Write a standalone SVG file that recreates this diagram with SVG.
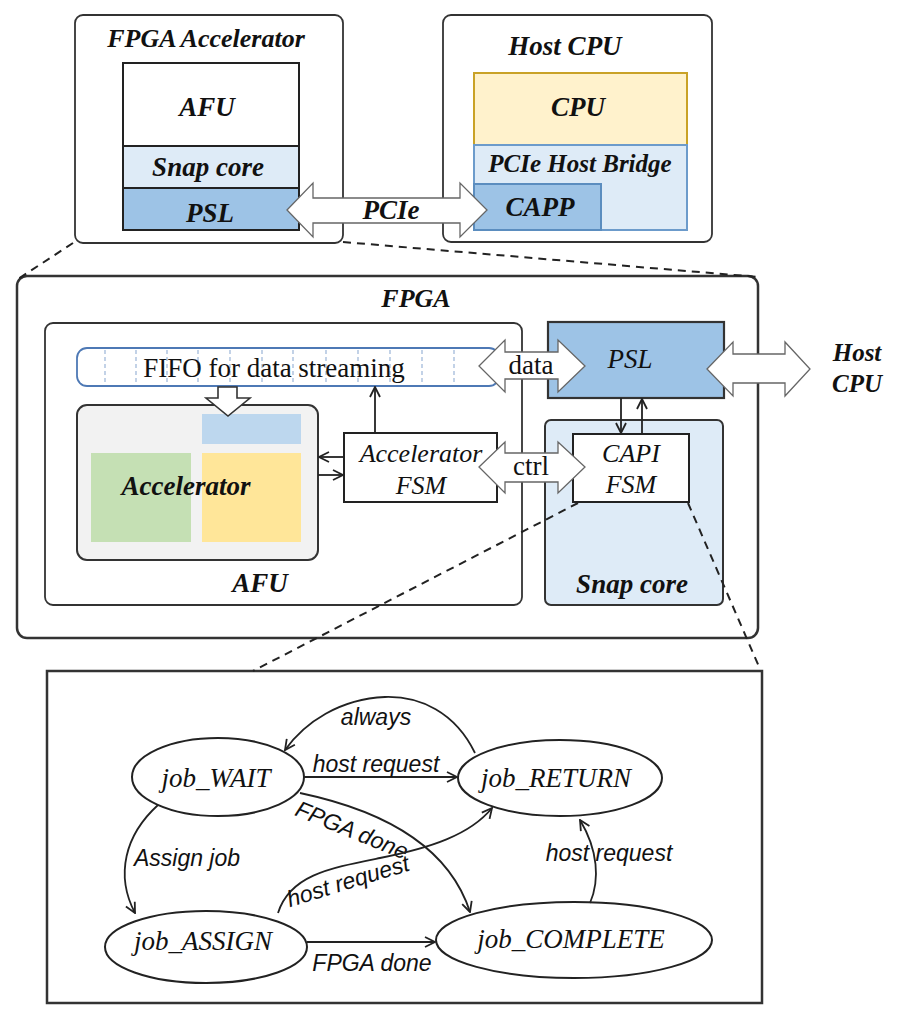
<svg xmlns="http://www.w3.org/2000/svg" width="911" height="1014" viewBox="0 0 911 1014">
<style>
.bi{font-family:"Liberation Serif","Times New Roman",serif;font-weight:bold;font-style:italic;fill:#111;text-anchor:middle}
.it{font-family:"Liberation Serif","Times New Roman",serif;font-style:italic;fill:#111;text-anchor:middle}
.rm{font-family:"Liberation Serif","Times New Roman",serif;fill:#111;text-anchor:middle}
.sl{font-family:"Liberation Sans",Arial,sans-serif;font-style:italic;fill:#111;text-anchor:middle;font-size:23px}
.box{fill:#fff;stroke:#333;stroke-width:1.8}
.barrow{fill:#fff;stroke:#666;stroke-width:1.3}
.dash{fill:none;stroke:#222;stroke-width:2;stroke-dasharray:8,6}
.ln{fill:none;stroke:#222;stroke-width:1.8}
.st{fill:#fff;stroke:#222;stroke-width:2}
</style>
<defs>
<marker id="ah" viewBox="0 0 12 12" refX="11" refY="6" markerWidth="12" markerHeight="12" markerUnits="userSpaceOnUse" orient="auto">
<path d="M1,1 L11,6 L1,11" fill="none" stroke="#222" stroke-width="1.8"/>
</marker>
</defs>

<!-- Top: FPGA Accelerator -->
<g id="fpga-accelerator">
<rect x="75" y="15" width="268" height="228" rx="8" class="box"/>
<text x="206" y="47" class="bi" font-size="26">FPGA Accelerator</text>
<rect x="123" y="63" width="176" height="83" fill="#fff" stroke="#222" stroke-width="2"/>
<text x="207" y="116" class="bi" font-size="27">AFU</text>
<rect x="123" y="146" width="176" height="42" fill="#DEEBF7" stroke="#222" stroke-width="2"/>
<text x="208" y="176" class="bi" font-size="27">Snap core</text>
<rect x="123" y="188" width="176" height="42" fill="#9DC3E6" stroke="#222" stroke-width="2"/>
<text x="210" y="222" class="bi" font-size="27">PSL</text>
</g>

<!-- Top: Host CPU -->
<g id="host-cpu-top">
<rect x="443" y="15" width="269" height="227" rx="8" class="box"/>
<text x="565" y="55" class="bi" font-size="27">Host CPU</text>
<rect x="474" y="73" width="213" height="72" fill="#FFF2CC" stroke="#C9A227" stroke-width="2"/>
<text x="578" y="116" class="bi" font-size="27">CPU</text>
<rect x="474" y="145" width="213" height="85" fill="#DEEBF7" stroke="#6C9BCB" stroke-width="2"/>
<text x="580" y="172" class="bi" font-size="25">PCIe Host Bridge</text>
<rect x="474" y="184" width="127" height="46" fill="#9DC3E6" stroke="#5B8DBF" stroke-width="2"/>
<text x="540" y="216" class="bi" font-size="27">CAPP</text>
</g>

<!-- Middle: FPGA -->
<g id="fpga">
<rect x="17" y="276" width="741" height="362" rx="10" class="box" style="stroke-width:2.5"/>
<text x="416" y="307" class="bi" font-size="26">FPGA</text>
</g>
<g id="afu">
<rect x="45" y="323" width="477" height="282" rx="8" class="box"/>
<text x="260" y="592" class="bi" font-size="27">AFU</text>
</g>
<g id="fifo">
<rect x="77" y="348" width="422" height="38" rx="10" fill="#fff" stroke="#4E79B5" stroke-width="1.8"/>
<g stroke="#9BB5D8" stroke-width="1.2" stroke-dasharray="4,3">
<line x1="105" y1="350" x2="105" y2="384"/><line x1="136" y1="350" x2="136" y2="384"/>
<line x1="167" y1="350" x2="167" y2="384"/><line x1="198" y1="350" x2="198" y2="384"/>
<line x1="230" y1="350" x2="230" y2="384"/><line x1="262" y1="350" x2="262" y2="384"/>
<line x1="293" y1="350" x2="293" y2="384"/><line x1="326" y1="350" x2="326" y2="384"/>
<line x1="358" y1="350" x2="358" y2="384"/><line x1="390" y1="350" x2="390" y2="384"/>
<line x1="422" y1="350" x2="422" y2="384"/><line x1="454" y1="350" x2="454" y2="384"/>
</g>
<text x="274" y="377" class="rm" font-size="27">FIFO for data streaming</text>
</g>
<g id="accelerator">
<rect x="77" y="405" width="241" height="155" rx="10" fill="#F2F2F2" stroke="#333" stroke-width="2"/>
<rect x="202" y="414" width="99" height="30" fill="#BDD7EE"/>
<rect x="91" y="453" width="100" height="89" fill="#C5E0B4"/>
<rect x="202" y="453" width="99" height="89" fill="#FFE699"/>
<text x="186" y="495" class="bi" font-size="27">Accelerator</text>
</g>
<g id="accelerator-fsm">
<rect x="344" y="433" width="153" height="69" fill="#fff" stroke="#222" stroke-width="2"/>
<text x="421" y="462" class="it" font-size="26">Accelerator</text>
<text x="421" y="494" class="it" font-size="26">FSM</text>
</g>
<g id="psl">
<rect x="548" y="322" width="176" height="76" fill="#9DC3E6" stroke="#333" stroke-width="2.2"/>
<text x="630" y="368" class="it" font-size="27">PSL</text>
</g>
<g id="snap-core">
<rect x="545" y="420" width="178" height="185" rx="6" fill="#DEEBF7" stroke="#333" stroke-width="2"/>
<text x="632" y="593" class="bi" font-size="27">Snap core</text>
</g>
<g id="capi-fsm">
<rect x="573" y="434" width="116" height="68" fill="#fff" stroke="#222" stroke-width="2"/>
<text x="631" y="462" class="it" font-size="26">CAPI</text>
<text x="631" y="493" class="it" font-size="26">FSM</text>
</g>
<g id="host-cpu-label">
<text x="857" y="361" class="bi" font-size="25">Host</text>
<text x="857" y="392" class="bi" font-size="25">CPU</text>
</g>

<!-- Bottom state machine -->
<g id="fsm-frame">
<rect x="47" y="671" width="715" height="332" fill="#fff" stroke="#333" stroke-width="2.5"/>
</g>
<g id="job_WAIT">
<ellipse cx="218" cy="777" rx="86" ry="39" class="st"/>
<text x="216" y="787" class="it" font-size="27">job_WAIT</text>
</g>
<g id="job_RETURN">
<ellipse cx="560" cy="778" rx="102" ry="38" class="st"/>
<text x="556" y="787" class="it" font-size="27">job_RETURN</text>
</g>
<g id="job_ASSIGN">
<ellipse cx="206" cy="947" rx="101" ry="36" class="st"/>
<text x="203" y="950" class="it" font-size="27">job_ASSIGN</text>
</g>
<g id="job_COMPLETE">
<ellipse cx="574" cy="940" rx="138" ry="38" class="st"/>
<text x="571" y="948" class="it" font-size="27">job_COMPLETE</text>
</g>

<!-- Connectors -->
<g id="connectors">
<line x1="73" y1="243" x2="18" y2="279" class="dash"/>
<line x1="343" y1="242" x2="758" y2="277" class="dash"/>
<line x1="578" y1="503" x2="253" y2="671" class="dash"/>
<line x1="688" y1="503" x2="760" y2="669" class="dash"/>

<polygon class="barrow" points="287,210 313,183 313,198 460,198 460,183 487,210 460,237 460,223 313,223 313,237"/>
<text x="391" y="219" class="bi" font-size="27">PCIe</text>

<polygon class="barrow" points="479,366 505,340 505,352 558,352 558,340 585,366 558,392 558,379 505,379 505,392"/>
<text x="531" y="374" class="rm" font-size="27">data</text>
<polygon class="barrow" points="479,467 505,442 505,453 558,453 558,442 585,467 558,493 558,482 505,482 505,493"/>
<text x="531" y="475" class="rm" font-size="27">ctrl</text>
<polygon class="barrow" points="707,369 733,342 733,354 785,354 785,342 810,369 785,396 785,383 733,383 733,396"/>

<polygon points="218,387 237,387 237,398 250,398 228,416 206,398 218,398" style="fill:#fff;stroke:#333;stroke-width:1.6"/>

<line x1="375" y1="433" x2="375" y2="387" class="ln" marker-end="url(#ah)"/>
<line x1="344" y1="457" x2="319" y2="457" class="ln" marker-end="url(#ah)"/>
<line x1="318" y1="475" x2="343" y2="475" class="ln" marker-end="url(#ah)"/>
<line x1="621" y1="398" x2="621" y2="433" class="ln" marker-end="url(#ah)"/>
<line x1="642" y1="434" x2="642" y2="399" class="ln" marker-end="url(#ah)"/>

<path d="M475,753 C455,712 420,696 385,697 C340,699 305,722 285,750" class="ln" marker-end="url(#ah)"/>
<text x="376" y="725" class="sl">always</text>
<line x1="304" y1="777" x2="457" y2="777" class="ln" marker-end="url(#ah)"/>
<text x="376" y="772" class="sl">host request</text>
<path d="M300,793 C390,812 450,850 470,912" class="ln" marker-end="url(#ah)"/>
<text x="352" y="838" class="sl" transform="rotate(22 352 830)">FPGA done</text>
<path d="M158,805 C125,835 115,875 135,913" class="ln" marker-end="url(#ah)"/>
<text x="187" y="866" class="sl">Assign job</text>
<path d="M278,913 C290,875 330,868 380,858 C430,848 470,835 492,808" class="ln" marker-end="url(#ah)"/>
<text x="348" y="889" class="sl" transform="rotate(-17 348 881)">host request</text>
<line x1="307" y1="942" x2="435" y2="942" class="ln" marker-end="url(#ah)"/>
<text x="372" y="971" class="sl">FPGA done</text>
<path d="M590,903 C600,880 598,850 580,820" class="ln" marker-end="url(#ah)"/>
<text x="609" y="861" class="sl">host request</text>
</g>
</svg>
